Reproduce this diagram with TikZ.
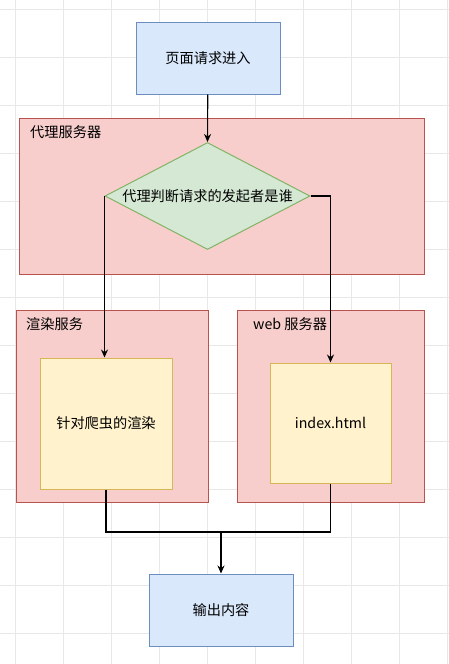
\documentclass[tikz,border=0pt]{standalone}
\usepackage{fontspec}
\setmainfont{Noto Sans CJK SC}
\usetikzlibrary{shapes.geometric,arrows.meta}
\definecolor{blueFill}{HTML}{DAE8FC}
\definecolor{blueLine}{HTML}{6C8EBF}
\definecolor{redFill}{HTML}{F8CECC}
\definecolor{redLine}{HTML}{B85450}
\definecolor{greenFill}{HTML}{D5E8D4}
\definecolor{greenLine}{HTML}{82B366}
\definecolor{yellowFill}{HTML}{FFF2CC}
\definecolor{yellowLine}{HTML}{D6B656}
\definecolor{gridGray}{HTML}{E8E8E8}

\begin{document}
\begin{tikzpicture}[x=1pt,y=-1pt,>={Stealth[length=8pt,width=7pt]},
            every node/.style={font=\fontsize{14.2}{16}\selectfont},
            gridline/.style={gridGray,line width=0.8pt},
            blueBox/.style={draw=blueLine,fill=blueFill,line width=1pt},
            redBox/.style={draw=redLine,fill=redFill,line width=1pt},
            yellowBox/.style={draw=yellowLine,fill=yellowFill,line width=1pt},
            areaLabel/.style={anchor=west,inner sep=0pt},
            flow/.style={line width=1.1pt}]
            \useasboundingbox (0,0) rectangle (449,664);
            \fill[white] (0,0) rectangle (449,664);
            \foreach \gx in {15,63,...,447} \draw[gridline] (\gx,0) -- (\gx,664);
            \foreach \gy in {9,57,...,633} \draw[gridline] (0,\gy) -- (449,\gy);
            \node[blueBox,minimum width=144pt,minimum height=72pt] (enter) at (208,58) {页面请求进入};
            \node[redBox,minimum width=405pt,minimum height=156pt] (proxy) at (221.5,196) {};
            \node[areaLabel] (proxyLabel) at (30,132) {代理服务器};
            \node[diamond,draw=greenLine,fill=greenFill,line width=1pt,inner sep=0pt,aspect=1.9,minimum width=205pt,minimum height=107pt] (judge) at (207.5,196) {代理判断请求的发起者是谁};
            \node[redBox,minimum width=192pt,minimum height=192pt] (render) at (112,406) {};
            \node[areaLabel] (renderLabel) at (26,324) {渲染服务};
            \node[yellowBox,minimum width=132pt,minimum height=131pt] (crawler) at (106,423.5) {针对爬虫的渲染};
            \node[redBox,minimum width=187pt,minimum height=192pt] (web) at (330.5,406) {};
            \node[areaLabel] (webLabel) at (253,324) {web 服务器};
            \node[yellowBox,minimum width=121pt,minimum height=120pt] (index) at (330.5,423) {index.html};
            \node[blueBox,minimum width=144pt,minimum height=72pt] (output) at (221,610) {输出内容};
            \coordinate (merge) at (221,532);
            \draw[flow,->] (enter) -- (judge.north);
            \draw[flow,->] (judge.west) -- (judge.west |- crawler.north);
            \draw[flow,->] (judge.east) -| (index.north);
            \draw[flow] (crawler.south) |- (merge);
            \draw[flow] (index.south) |- (merge);
            \draw[flow,->] (merge) -- (output.north);
\end{tikzpicture}
\end{document}
